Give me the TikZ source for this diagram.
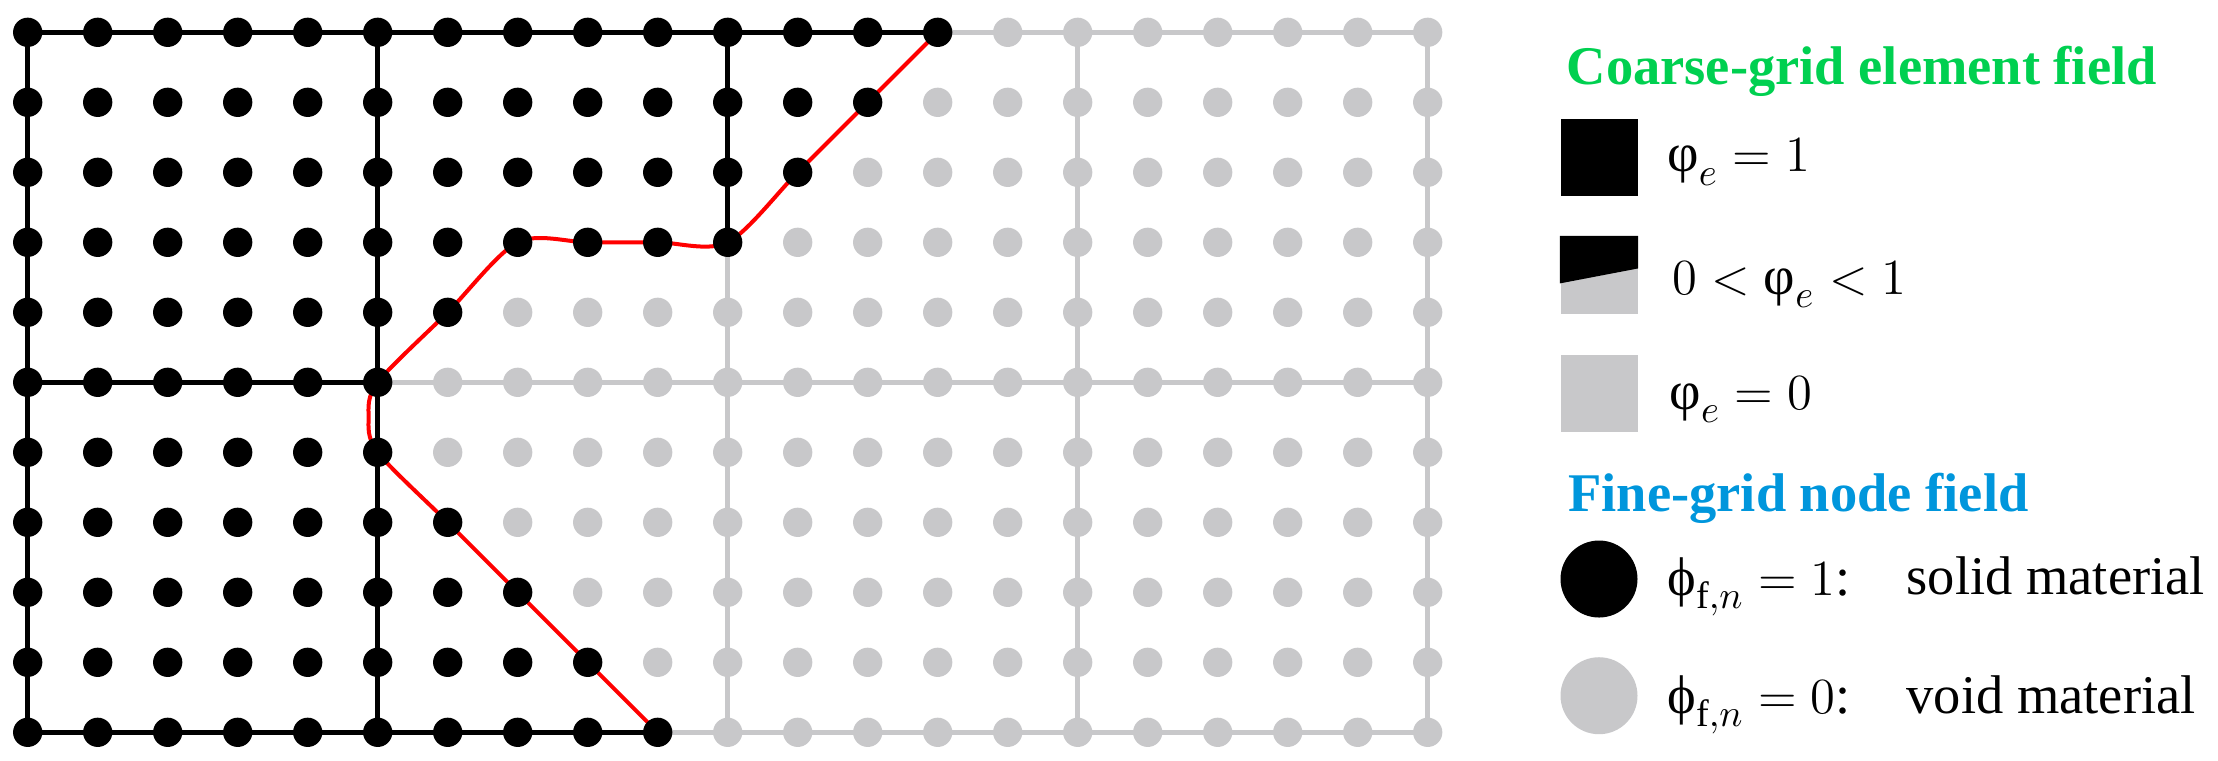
\documentclass[tikz,border=0pt]{standalone}
\usepackage{fontspec}
\setmainfont{Liberation Serif}
\definecolor{voidgray}{RGB}{200,200,202}
\definecolor{coarsegreen}{RGB}{0,208,80}
\definecolor{fineblue}{RGB}{0,150,220}
% upright phi glyphs taken from the text font
\newcommand{\elemphi}{\mbox{φ}}
\newcommand{\nodephi}{\mbox{ϕ}}

\begin{document}
\begin{tikzpicture}[
	x=0.1mm, y=-0.1mm,
	gridunits/.style={shift={(27.7,32.3)}, x=7mm, y=-7mm},
	soliddot/.style={circle, fill=black, inner sep=0pt, minimum size=2.93mm},
	voiddot/.style={circle, fill=voidgray, inner sep=0pt, minimum size=2.93mm},
	solidline/.style={line width=0.45mm, black},
	voidline/.style={line width=0.45mm, voidgray},
	interface/.style={line width=0.4mm, red, line join=round},
	keybox/.style={rectangle, inner sep=0pt, minimum size=7.7mm},
	keydot/.style={circle, inner sep=0pt, minimum size=7.7mm},
	keyhead/.style={anchor=base west, inner sep=0pt, font=\fontsize{15.5}{18}\selectfont\bfseries},
	keytext/.style={anchor=base west, inner sep=0pt, font=\fontsize{15.5}{18}\selectfont}
	]
	
	\useasboundingbox (0,0) rectangle (2218,760);
	
	% Fine-grid points (21 x 11)
	\begin{scope}[gridunits]
	\foreach \i in {0,...,20}
		\foreach \j in {0,...,10}
			\coordinate (p-\i-\j) at (\i,\j);
	\end{scope}
	
	% Coarse-grid element edges: void
	\foreach \j in {0,5,10}
		\draw[voidline] (p-0-\j) -- (p-20-\j);
	\foreach \i in {0,5,10,15,20}
		\draw[voidline] (p-\i-0) -- (p-\i-10);
	
	% Coarse-grid element edges: solid
	\draw[solidline] (p-0-0) -- (p-13-0);
	\draw[solidline] (p-0-5) -- (p-5-5);
	\draw[solidline] (p-0-10) -- (p-9-10);
	\draw[solidline] (p-0-0) -- (p-0-10);
	\draw[solidline] (p-5-0) -- (p-5-10);
	\draw[solidline] (p-10-0) -- (p-10-3);
	
	% Material interface
	\begin{scope}[gridunits]
	\draw[interface] plot[smooth] coordinates {(13,0) (12,1) (11,2) (10,3) (9,3) (8,3) (7,3) (6,4) (5,5) (4.87,5.5) (5,6) (6,7) (7,8) (8,9) (9,10)};
	\end{scope}
	
	% Fine-grid nodes (solid up to column \last in each row)
	\foreach \j/\last in {0/13,1/12,2/11,3/10,4/6,5/5,6/5,7/6,8/7,9/8,10/9}
		\foreach \i in {0,...,20} {
			\ifnum\i>\last
				\node[voiddot] (d-\i-\j) at (p-\i-\j) {};
			\else
				\node[soliddot] (d-\i-\j) at (p-\i-\j) {};
			\fi
		}
	
	% Legend: coarse grid
	\node[keyhead, text=coarsegreen] (coarse) at (1566,84) {Coarse-grid element field};
	\node[keybox, fill=black] (sq1) at (1599,157) {};
	\node[keytext] (t1) at (1666.7,171.7) {$\elemphi_e = 1$};
	\node[keybox, fill=voidgray] (sq2) at (1599,275) {};
	\fill[black] (sq2.north west) -- (sq2.north east) -- ([yshift=-3.26mm]sq2.north east) -- ([yshift=-4.76mm]sq2.north west) -- cycle;
	\node[keytext] (t2) at (1671.7,294.3) {$0 < \elemphi_e < 1$};
	\node[keybox, fill=voidgray] (sq3) at (1599,393.7) {};
	\node[keytext] (t3) at (1669,409.3) {$\elemphi_e = 0$};
	
	% Legend: fine grid
	\node[keyhead, text=fineblue] (fine) at (1567.7,511.7) {Fine-grid node field};
	\node[keydot, fill=black] (c1) at (1599,579) {};
	\node[keytext] (t4) at (1666.7,595) {$\nodephi_{\mathrm{f},n} = 1$:};
	\node[keytext] (m1) at (1906,594.3) {solid material};
	\node[keydot, fill=voidgray] (c2) at (1599,695.7) {};
	\node[keytext] (t5) at (1666.7,713.3) {$\nodephi_{\mathrm{f},n} = 0$:};
	\node[keytext] (m2) at (1906,713.3) {void material};
	
\end{tikzpicture}
\end{document}
